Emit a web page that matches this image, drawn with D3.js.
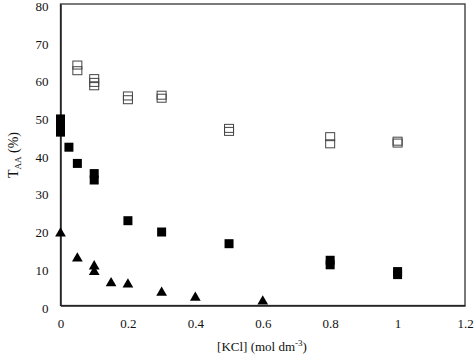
<!DOCTYPE html>
<html><head><meta charset="utf-8">
<script src="https://cdn.jsdelivr.net/npm/d3@7"></script>
<style>body{margin:0;background:#fff}svg{display:block}</style>
</head><body>
<svg id="c" width="474" height="358"></svg>
<script>
// Open squares
const openX = [0.05,0.05,0.1,0.1,0.1,0.2,0.2,0.3,0.3,0.5,0.5,0.8,0.8,1,1];
const openY = [63.8,62.3,60.2,59.2,58.3,55.6,54.6,55.8,55.0,47.0,46.2,44.8,42.9,43.6,43.1];
// Filled squares
const fillX = [0,0,0,0.025,0.05,0.1,0.1,0.2,0.3,0.5,0.8,0.8,1,1];
const fillY = [49.5,47.5,46.0,42.0,37.7,35.0,33.3,22.5,19.5,16.4,12.0,10.8,9.0,8.2];
// Triangles
const triX = [0,0.05,0.1,0.1,0.15,0.2,0.3,0.4,0.6];
const triY = [19.1,12.5,10.4,8.9,5.9,5.6,3.4,2.1,1.1];
const xTicks = [0,0.2,0.4,0.6,0.8,1,1.2];
const xTickLabels = ["0","0.2","0.4","0.6","0.8","1","1.2"];
const yTicks = [0,10,20,30,40,50,60,70,80];

const svg = d3.select("#c");
const L=60.5, R=465, T=4, B=305.5;
const x = d3.scaleLinear().domain([0,1.2]).range([L, R]);
const y = d3.scaleLinear().domain([0,80]).range([B, T]);
const font = "'Liberation Serif','Times New Roman',serif";

// frame
svg.append("rect").attr("x",L).attr("y",T).attr("width",R-L).attr("height",B-T)
  .attr("fill","none").attr("stroke","#333").attr("stroke-width",1.3);

const xAxis = svg.append("g").attr("transform",`translate(0,${B})`)
  .call(d3.axisBottom(x).tickValues(xTicks).tickFormat((d,i)=>xTickLabels[i]).tickSize(0).tickPadding(13));
const yAxis = svg.append("g").attr("transform",`translate(${L},0)`)
  .call(d3.axisLeft(y).tickValues(yTicks).tickSize(0).tickPadding(12));
[xAxis,yAxis].forEach(g=>{
  g.select(".domain").attr("stroke","#222").attr("stroke-width",1.5);
  g.selectAll("text").attr("font-family",font).attr("font-size",13).attr("fill","#111");
});
yAxis.selectAll("text").attr("dy","0.5em");

// open squares
svg.append("g").selectAll("rect").data(openX).join("rect")
  .attr("x",(d)=>x(d)-4.5).attr("y",(d,i)=>y(openY[i])-4)
  .attr("width",9).attr("height",8)
  .attr("fill","none").attr("stroke","#444").attr("stroke-width",1);

// filled squares
svg.append("g").selectAll("rect").data(fillX).join("rect")
  .attr("x",(d)=>x(d)-4.5).attr("y",(d,i)=>y(fillY[i])-4.5)
  .attr("width",9).attr("height",9).attr("fill","#000");

// triangles
const tri = d3.symbol().type(d3.symbolTriangle).size(50);
svg.append("g").selectAll("path").data(triX).join("path")
  .attr("d",tri).attr("transform",(d,i)=>`translate(${x(d)},${y(triY[i])})`)
  .attr("fill","#000");

// axis labels
const yl = svg.append("text").attr("transform","translate(18,155) rotate(-90)")
  .attr("text-anchor","middle").attr("font-family",font).attr("font-size",14).attr("fill","#111");
yl.append("tspan").text("T");
yl.append("tspan").attr("font-size",9).attr("dy",3).text("AA");
yl.append("tspan").attr("dy",-3).text(" (%)");

const xl = svg.append("text").attr("x",262).attr("y",351)
  .attr("text-anchor","middle").attr("font-family",font).attr("font-size",13).attr("fill","#111");
xl.append("tspan").text("[KCl] (mol dm");
xl.append("tspan").attr("font-size",9).attr("dy",-5).text("-3");
xl.append("tspan").attr("dy",5).text(")");
</script>
</body></html>
